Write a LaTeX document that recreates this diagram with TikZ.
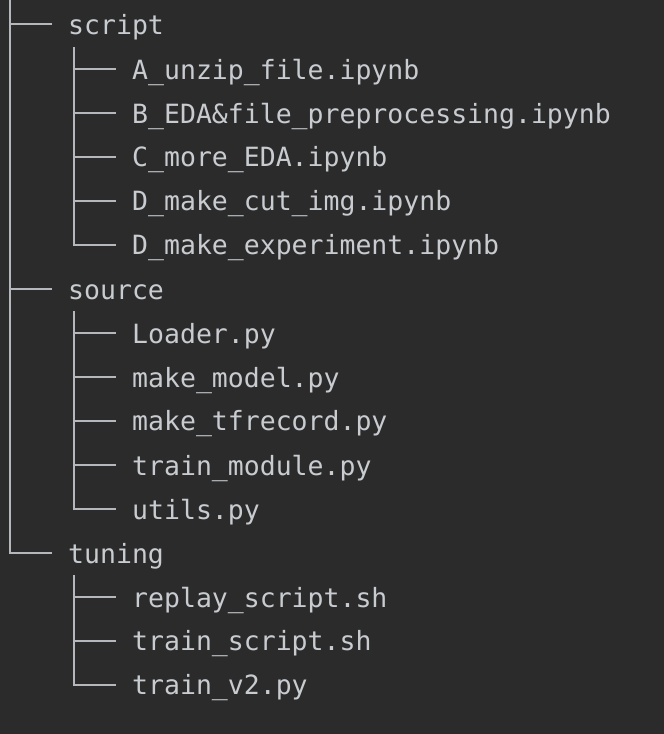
\documentclass[tikz,border=0pt]{standalone}
\usepackage{fontspec}
\setmonofont{DejaVu Sans Mono}
\definecolor{bg}{HTML}{2B2B2B}
\definecolor{fg}{HTML}{C8CCD0}
\definecolor{ln}{HTML}{B4B8BC}
\begin{document}
\begin{tikzpicture}[x=1pt,y=-1pt,
  lbl/.style={anchor=west,inner sep=0pt,yshift=-3pt,text=fg,font=\ttfamily\fontsize{26.5}{26.5}\selectfont},
  tl/.style={draw=ln,line width=1.6pt}]
\fill[bg] (0,0) rectangle (664,734);
\useasboundingbox (0,0) rectangle (664,734);
% level 1
\draw[tl] (10,0) -- (10,553) -- (52,553);
\foreach \y in {24,289} \draw[tl] (10,\y) -- (52,\y);
% script children
\draw[tl] (74,47) -- (74,245) -- (116,245);
\foreach \y in {69,113,157,201} \draw[tl] (74,\y) -- (116,\y);
% source children
\draw[tl] (74,311) -- (74,509) -- (116,509);
\foreach \y in {333,377,421,465} \draw[tl] (74,\y) -- (116,\y);
% tuning children
\draw[tl] (74,575) -- (74,685) -- (116,685);
\foreach \y in {597,641} \draw[tl] (74,\y) -- (116,\y);
\node[lbl] (script) at (68,24) {script};
\node[lbl] (a) at (132,69) {A\_unzip\_file.ipynb};
\node[lbl] (b) at (132,113) {B\_EDA\&file\_preprocessing.ipynb};
\node[lbl] (c) at (132,157) {C\_more\_EDA.ipynb};
\node[lbl] (d) at (132,201) {D\_make\_cut\_img.ipynb};
\node[lbl] (e) at (132,245) {D\_make\_experiment.ipynb};
\node[lbl] (source) at (68,289) {source};
\node[lbl] (f) at (132,333) {Loader.py};
\node[lbl] (g) at (132,377) {make\_model.py};
\node[lbl] (h) at (132,421) {make\_tfrecord.py};
\node[lbl] (i) at (132,465) {train\_module.py};
\node[lbl] (j) at (132,509) {utils.py};
\node[lbl] (tuning) at (68,553) {tuning};
\node[lbl] (k) at (132,597) {replay\_script.sh};
\node[lbl] (l) at (132,641) {train\_script.sh};
\node[lbl] (m) at (132,685) {train\_v2.py};
\end{tikzpicture}
\end{document}
